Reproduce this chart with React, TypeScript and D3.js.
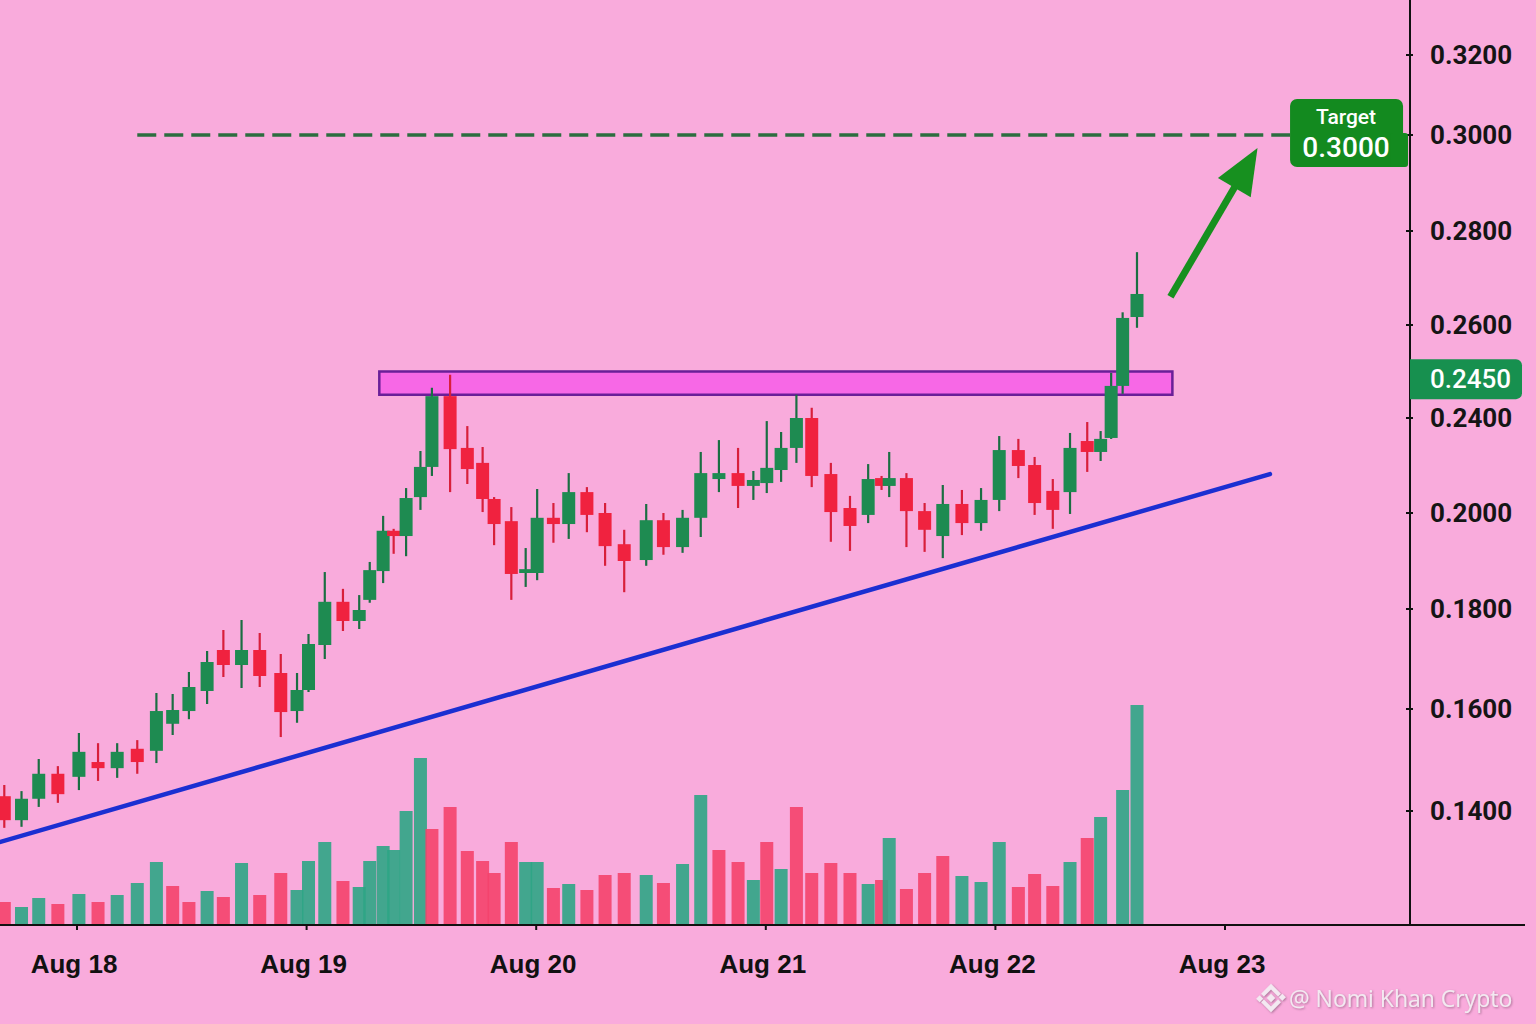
import { useEffect, useRef } from "react";
import * as d3 from "d3";

// hours after Aug 18 00:00 (UTC) for each candle
const CANDLE_HOURS = [
  -7.6, -5.8, -4.0, -2.0, 0.2, 2.2, 4.2, 6.3, 8.3, 10.0, 11.7, 13.6, 15.3, 17.2, 19.1, 21.3, 23.0, 24.2,
  25.9, 27.8, 29.5, 30.6, 32.0, 33.1, 34.4, 35.9, 37.1, 39.0, 40.8, 42.4, 43.6, 45.4, 46.9, 48.1, 49.8,
  51.4, 53.3, 55.2, 57.2, 59.5, 61.3, 63.3, 65.2, 67.1, 69.1, 70.7, 72.1, 73.6, 75.2, 76.8, 78.8, 80.8,
  82.7, 84.1, 84.9, 86.7, 88.6, 90.5, 92.5, 94.5, 96.4, 98.4, 100.1, 102.0, 103.8, 105.6, 107.0, 108.1,
  109.3, 110.8,
];
const OPEN = [
  0.1429, 0.1382, 0.1424, 0.1473, 0.1467, 0.1496, 0.1484, 0.1522, 0.1518, 0.1571, 0.1596, 0.1636, 0.1718,
  0.1688, 0.1718, 0.1672, 0.1596, 0.1638, 0.1728, 0.1815, 0.1776, 0.1819, 0.1879, 0.1963, 0.1952, 0.2067,
  0.2194, 0.2447, 0.2274, 0.2211, 0.2059, 0.1983, 0.1875, 0.1875, 0.199, 0.1977, 0.2088, 0.2, 0.1935,
  0.1902, 0.1985, 0.1929, 0.199, 0.2143, 0.2168, 0.2114, 0.2126, 0.2181, 0.2274, 0.24, 0.2164, 0.2021,
  0.1996, 0.2147, 0.2114, 0.2147, 0.2008, 0.1952, 0.2038, 0.1979, 0.2055, 0.2265, 0.2202, 0.2093, 0.2088,
  0.2303, 0.2257, 0.2316, 0.2469, 0.2617,
];
const HIGH = [
  0.1451, 0.1439, 0.1502, 0.1488, 0.1553, 0.1533, 0.1533, 0.1539, 0.1632, 0.163, 0.1674, 0.1716, 0.1758,
  0.1778, 0.1752, 0.171, 0.1672, 0.175, 0.1877, 0.1842, 0.1829, 0.1898, 0.1994, 0.1967, 0.2105, 0.2261,
  0.2465, 0.2493, 0.2366, 0.2278, 0.2067, 0.2025, 0.1927, 0.2101, 0.2042, 0.2168, 0.2109, 0.2042, 0.1965,
  0.2038, 0.2, 0.2013, 0.2257, 0.2307, 0.2274, 0.2177, 0.2387, 0.2341, 0.245, 0.2422, 0.2211, 0.2072,
  0.2206, 0.2156, 0.2257, 0.2168, 0.2042, 0.2118, 0.2097, 0.2105, 0.2324, 0.2312, 0.2236, 0.2143, 0.2337,
  0.2383, 0.2345, 0.2497, 0.2627, 0.2755,
];
const LOW = [
  0.1367, 0.1369, 0.1408, 0.1416, 0.1441, 0.1459, 0.1465, 0.1473, 0.1494, 0.1549, 0.158, 0.161, 0.1664,
  0.1642, 0.1644, 0.1545, 0.1573, 0.1634, 0.17, 0.1756, 0.176, 0.1813, 0.1854, 0.1915, 0.191, 0.2013,
  0.2156, 0.2088, 0.2122, 0.2004, 0.1933, 0.1819, 0.1846, 0.186, 0.1938, 0.1946, 0.196, 0.189, 0.1835,
  0.189, 0.1913, 0.1917, 0.195, 0.2088, 0.2021, 0.2055, 0.2084, 0.2131, 0.2211, 0.2109, 0.194, 0.1921,
  0.1979, 0.2097, 0.2067, 0.1929, 0.1919, 0.1906, 0.1954, 0.1963, 0.2008, 0.2147, 0.1996, 0.1967, 0.1998,
  0.2173, 0.2219, 0.2312, 0.2452, 0.2594,
];
const CLOSE = [
  0.1382, 0.1424, 0.1473, 0.1433, 0.1516, 0.1484, 0.1516, 0.1496, 0.1596, 0.1598, 0.1644, 0.1694, 0.1688,
  0.1718, 0.1666, 0.1594, 0.1638, 0.173, 0.1815, 0.1776, 0.1798, 0.1881, 0.1963, 0.1952, 0.2063, 0.2194,
  0.2447, 0.2269, 0.2185, 0.2059, 0.1977, 0.1873, 0.1883, 0.199, 0.1977, 0.2088, 0.1996, 0.1931, 0.19,
  0.1985, 0.1929, 0.199, 0.2168, 0.2168, 0.2114, 0.2139, 0.219, 0.2274, 0.24, 0.2156, 0.2004, 0.1973,
  0.2143, 0.2114, 0.2147, 0.2008, 0.1965, 0.2038, 0.1979, 0.2055, 0.2265, 0.2198, 0.2042, 0.2013, 0.2274,
  0.2257, 0.2312, 0.2469, 0.2615, 0.2666,
];
// volume in millions
const VOLUME = [
  2.3, 1.8, 2.7, 2.1, 3.1, 2.3, 3.0, 4.2, 6.3, 3.9, 2.3, 3.4, 2.8, 6.2, 3.0, 5.2, 3.5, 6.4, 8.3, 4.4, 3.8,
  6.4, 7.9, 7.5, 11.4, 16.7, 9.6, 11.8, 7.4, 6.4, 5.2, 8.3, 6.3, 6.3, 3.7, 4.1, 3.5, 5.0, 5.2, 5.0, 4.2,
  6.1, 13.0, 7.5, 6.3, 4.5, 8.3, 5.6, 11.8, 5.2, 6.2, 5.2, 4.1, 4.5, 8.7, 3.6, 5.2, 6.9, 4.9, 4.3, 8.3,
  3.8, 5.1, 3.9, 6.3, 8.7, 10.8, 0, 13.5, 22.0,
];
const VOLUME_SIDE = (
  "d u u d u d u u u d d u d u d d u u u d u u u u u u d d d d d d u u d u d d d u d u u d d u d u d d " +
  "d d u d u d d d u u u d d d u d u u u u"
).split(" ");

const PRICE_TICKS = [0.14, 0.16, 0.18, 0.2, 0.24, 0.26, 0.28, 0.3, 0.32];
const DAY_START = Date.UTC(2024, 7, 18);
const DAY_END = Date.UTC(2024, 7, 23);

const RESISTANCE = [0.245, 0.25];
const RESISTANCE_HOURS = [31.6, 114.5];
const LEVEL = 0.245;
const TARGET = 0.3;
const TARGET_HOURS = [6.3, 126.8];
const TREND_HOURS = [-8.1, 124.7];
const TREND_PRICES = [0.1339, 0.2164];
const ARROW_HOURS = [114.3, 123.4];
const ARROW_PRICES = [0.266, 0.2973];

const W = 1536;
const H = 1024;
const AXIS_X = 1410;
const BASE_Y = 925;
// pixel rows of the price ticks on the (uneven) right axis
const TICK_Y = [811, 709, 609, 513, 418, 325, 231, 135, 55];

const BG = "#f9abdc";
const UP = "#1e8b51";
const DOWN = "#f0223f";
const VOL_UP = "#2ea585";
const VOL_DOWN = "#f4436c";
const FONT = "Roboto, 'Liberation Sans', Arial, sans-serif";

const hourDate = (h: number) => new Date(DAY_START + h * 3600 * 1000);

export default function App() {
  const svgRef = useRef<SVGSVGElement>(null);

  useEffect(() => {
    document.body.style.margin = "0";
    if (!svgRef.current) return;

    const svg = d3.select(svgRef.current);
    svg.selectAll("*").remove();

    const x = d3.scaleUtc().domain([new Date(DAY_START), new Date(DAY_END)]).range([77, 1225]);
    const y = d3.scaleLinear().domain(PRICE_TICKS).range(TICK_Y);
    const yVol = d3.scaleLinear().domain([0, 22]).range([BASE_Y, 705]);

    const candles = CANDLE_HOURS.map((h, i) => ({
      t: hourDate(h),
      o: OPEN[i],
      h: HIGH[i],
      l: LOW[i],
      c: CLOSE[i],
      v: VOLUME[i],
      vUp: VOLUME_SIDE[i] === "u",
    }));

    svg.append("rect").attr("width", W).attr("height", H).attr("fill", BG);

    const defs = svg.append("defs");
    defs
      .append("clipPath")
      .attr("id", "plot")
      .append("rect")
      .attr("x", 0)
      .attr("y", 0)
      .attr("width", AXIS_X)
      .attr("height", BASE_Y);
    const shadow = defs.append("filter").attr("id", "wm").attr("x", "-10%").attr("y", "-30%").attr("width", "120%").attr("height", "160%");
    shadow
      .append("feDropShadow")
      .attr("dx", 1)
      .attr("dy", 1)
      .attr("stdDeviation", 0.8)
      .attr("flood-color", "#8a5a7a")
      .attr("flood-opacity", 0.7);

    const plot = svg.append("g").attr("clip-path", "url(#plot)");

    // Volume
    plot
      .selectAll("rect.vol")
      .data(candles.filter((d) => d.v > 0))
      .enter()
      .append("rect")
      .attr("class", "vol")
      .attr("x", (d) => x(d.t) - 6.5)
      .attr("width", 13)
      .attr("y", (d) => yVol(d.v))
      .attr("height", (d) => BASE_Y - yVol(d.v))
      .attr("fill", (d) => (d.vUp ? VOL_UP : VOL_DOWN))
      .attr("fill-opacity", 0.9);

    // Trend line
    plot
      .append("path")
      .attr(
        "d",
        d3.line<number>()
          .x((_, i) => x(hourDate(TREND_HOURS[i])))
          .y((p) => y(p))(TREND_PRICES)
      )
      .attr("stroke", "#1b2fd2")
      .attr("stroke-width", 4.5)
      .attr("stroke-linecap", "round")
      .attr("fill", "none");

    // Resistance zone
    plot
      .append("rect")
      .attr("x", x(hourDate(RESISTANCE_HOURS[0])))
      .attr("width", x(hourDate(RESISTANCE_HOURS[1])) - x(hourDate(RESISTANCE_HOURS[0])))
      .attr("y", y(RESISTANCE[1]))
      .attr("height", y(RESISTANCE[0]) - y(RESISTANCE[1]))
      .attr("fill", "#f768e6")
      .attr("stroke", "#6a1f98")
      .attr("stroke-width", 2.5);

    // Candles
    const cg = plot
      .selectAll("g.candle")
      .data(candles)
      .enter()
      .append("g")
      .attr("class", "candle");
    cg.append("line")
      .attr("x1", (d) => x(d.t))
      .attr("x2", (d) => x(d.t))
      .attr("y1", (d) => y(d.h))
      .attr("y2", (d) => y(d.l))
      .attr("stroke", (d) => (d.c >= d.o ? "#1a6e42" : "#d81f3b"))
      .attr("stroke-width", 2.2);
    cg.append("rect")
      .attr("x", (d) => x(d.t) - 6.5)
      .attr("width", 13)
      .attr("y", (d) => y(Math.max(d.o, d.c)))
      .attr("height", (d) => Math.max(3, Math.abs(y(d.o) - y(d.c))))
      .attr("fill", (d) => (d.c >= d.o ? UP : DOWN));

    // Target dashed line
    plot
      .append("line")
      .attr("x1", x(hourDate(TARGET_HOURS[0])))
      .attr("x2", x(hourDate(TARGET_HOURS[1])))
      .attr("y1", y(TARGET))
      .attr("y2", y(TARGET))
      .attr("stroke", "#2c6d3f")
      .attr("stroke-width", 3.5)
      .attr("stroke-dasharray", "19 8");

    // Arrow
    const a0 = [x(hourDate(ARROW_HOURS[0])), y(ARROW_PRICES[0])];
    const a1 = [x(hourDate(ARROW_HOURS[1])), y(ARROW_PRICES[1])];
    const len = Math.hypot(a1[0] - a0[0], a1[1] - a0[1]);
    const ux = (a1[0] - a0[0]) / len;
    const uy = (a1[1] - a0[1]) / len;
    const headLen = 46;
    const headHalf = 19;
    const bx = a1[0] - ux * headLen;
    const by = a1[1] - uy * headLen;
    plot
      .append("line")
      .attr("x1", a0[0])
      .attr("y1", a0[1])
      .attr("x2", bx + ux * 4)
      .attr("y2", by + uy * 4)
      .attr("stroke", "#17901f")
      .attr("stroke-width", 7);
    plot
      .append("path")
      .attr(
        "d",
        `M${a1[0]},${a1[1]}L${bx - uy * headHalf},${by + ux * headHalf}L${bx + uy * headHalf},${by - ux * headHalf}Z`
      )
      .attr("fill", "#17901f");

    // Axes lines
    svg
      .append("line")
      .attr("x1", 0)
      .attr("x2", 1525)
      .attr("y1", BASE_Y)
      .attr("y2", BASE_Y)
      .attr("stroke", "#111")
      .attr("stroke-width", 2);
    svg
      .append("line")
      .attr("x1", AXIS_X)
      .attr("x2", AXIS_X)
      .attr("y1", 0)
      .attr("y2", BASE_Y)
      .attr("stroke", "#111")
      .attr("stroke-width", 2);

    // X ticks
    const days = x.ticks(d3.utcDay.every(1)!);
    const fmtDay = d3.utcFormat("%b %d");
    svg
      .selectAll("line.xt")
      .data(days)
      .enter()
      .append("line")
      .attr("x1", (d) => x(d))
      .attr("x2", (d) => x(d))
      .attr("y1", BASE_Y)
      .attr("y2", BASE_Y + 5)
      .attr("stroke", "#111")
      .attr("stroke-width", 2);
    svg
      .selectAll("text.xt")
      .data(days)
      .enter()
      .append("text")
      .attr("x", (d) => x(d) - 3)
      .attr("y", 973)
      .attr("text-anchor", "middle")
      .attr("font-family", "'Liberation Sans', Arial, sans-serif")
      .attr("font-weight", 700)
      .attr("font-size", 26)
      .attr("fill", "#111")
      .text((d) => fmtDay(d));

    // Y ticks
    svg
      .selectAll("line.yt")
      .data(PRICE_TICKS)
      .enter()
      .append("line")
      .attr("x1", AXIS_X - 4)
      .attr("x2", AXIS_X + 3)
      .attr("y1", (d) => y(d))
      .attr("y2", (d) => y(d))
      .attr("stroke", "#111")
      .attr("stroke-width", 2);
    const fmtPrice = d3.format(".4f");
    svg
      .selectAll("text.yt")
      .data(PRICE_TICKS)
      .enter()
      .append("text")
      .attr("x", 1430)
      .attr("y", (d) => y(d))
      .attr("dy", "0.35em")
      .attr("font-family", FONT)
      .attr("font-weight", 700)
      .attr("font-size", 26)
      .attr("fill", "#151515")
      .text((d) => fmtPrice(d));

    // Level label on the axis
    const ly = (y(RESISTANCE[0]) + y(RESISTANCE[1])) / 2 - 4;
    svg
      .append("path")
      .attr("d", `M${AXIS_X},${ly - 20}H1516a6,6 0 0 1 6,6V${ly + 14}a6,6 0 0 1 -6,6H${AXIS_X}Z`)
      .attr("fill", "#17904f");
    svg
      .append("text")
      .attr("x", 1430)
      .attr("y", ly)
      .attr("dy", "0.35em")
      .attr("font-family", FONT)
      .attr("font-weight", 500)
      .attr("font-size", 26)
      .attr("fill", "#fff")
      .text(fmtPrice(LEVEL));

    // Target label
    const tx = x(hourDate(TARGET_HOURS[1]));
    const ty = y(TARGET);
    svg
      .append("rect")
      .attr("x", tx)
      .attr("y", ty - 36)
      .attr("width", 113)
      .attr("height", 68)
      .attr("rx", 7)
      .attr("fill", "#138a1f");
    svg
      .append("rect")
      .attr("x", tx + 100)
      .attr("y", ty - 2)
      .attr("width", 18)
      .attr("height", 34)
      .attr("rx", 3)
      .attr("fill", "#138a1f");
    svg
      .append("text")
      .attr("x", tx + 56)
      .attr("y", ty - 18)
      .attr("dy", "0.35em")
      .attr("text-anchor", "middle")
      .attr("font-family", FONT)
      .attr("font-weight", 500)
      .attr("font-size", 21)
      .attr("fill", "#fff")
      .text("Target");
    svg
      .append("text")
      .attr("x", tx + 56)
      .attr("y", ty + 12)
      .attr("dy", "0.35em")
      .attr("text-anchor", "middle")
      .attr("font-family", FONT)
      .attr("font-weight", 500)
      .attr("font-size", 28)
      .attr("fill", "#fff")
      .text(fmtPrice(TARGET));

    // Watermark
    const wm = svg.append("g").attr("filter", "url(#wm)").attr("fill", "#f3e9f1");
    const icon = wm.append("g").attr("transform", "translate(1271,998) rotate(45)");
    icon.append("rect").attr("x", -3).attr("y", -3).attr("width", 6).attr("height", 6);
    icon
      .append("path")
      .attr("d", "M-10,-10H4V-6H-6V4H-10Z M10,10H-4V6H6V-4H10Z")
      .attr("fill-rule", "evenodd");
    icon.append("rect").attr("x", 5).attr("y", -11).attr("width", 5).attr("height", 5);
    icon.append("rect").attr("x", -10).attr("y", 6).attr("width", 5).attr("height", 5);
    wm.append("text")
      .attr("x", 1289)
      .attr("y", 1007)
      .attr("font-family", "'Open Sans', 'Noto Sans', sans-serif")
      .attr("font-size", 23)
      .text("@ Nomi Khan Crypto");
  }, []);

  return <svg ref={svgRef} width={W} height={H} style={{ display: "block" }} />;
}
